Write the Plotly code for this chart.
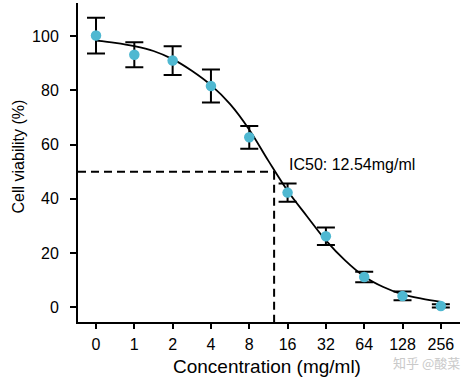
import math
import plotly.graph_objects as go

# ---- data ----
conc_labels = ["0", "1", "2", "4", "8", "16", "32", "64", "128", "256"]
viability = [100.2, 93.1, 91.0, 81.6, 62.7, 42.3, 26.2, 11.2, 4.2, 0.5]
viability_err = [6.6, 4.6, 5.3, 6.1, 4.2, 3.4, 3.2, 1.9, 1.6, 0.6]

# fitted curve (position on the category axis, % viability)
curve_pos = [0, 0.5, 1, 1.5, 2, 2.5, 3, 3.5, 4, 4.5, 5, 5.5, 6, 6.5, 7, 7.5, 8, 8.5, 9]
curve_val = [98.3, 97.5, 96.3, 94.5, 91.5, 87.2, 81.9, 74.9, 65.5, 54.0, 43.0,
             33.7, 24.7, 17.3, 11.4, 7.5, 4.8, 3.2, 2.0]

ic50 = 12.54          # mg/ml
ic50_level = 50       # %

x_range = [-0.47, 9.5]
y_range = [-5.4, 112.2]

# position of each category on the axis (0 first, then log2 steps)
xpos = list(range(len(conc_labels)))
ic50_pos = 1 + math.log2(ic50)

FONT = "Liberation Sans, Arial, Helvetica, sans-serif"
DOT = "#4FB8D1"

fig = go.Figure()

# dashed guide lines for IC50
fig.add_trace(go.Scatter(
    x=[x_range[0], ic50_pos], y=[ic50_level, ic50_level], mode="lines",
    line=dict(color="black", width=2, dash="8px,5px"), hoverinfo="skip",
    showlegend=False, cliponaxis=False))
fig.add_trace(go.Scatter(
    x=[ic50_pos, ic50_pos], y=[ic50_level, y_range[0]], mode="lines",
    line=dict(color="black", width=2, dash="8px,5px"), hoverinfo="skip",
    showlegend=False, cliponaxis=False))

# fitted curve
fig.add_trace(go.Scatter(
    x=curve_pos, y=curve_val, mode="lines",
    line=dict(color="black", width=1.8, shape="spline", smoothing=1),
    showlegend=False))

# data points with error bars
fig.add_trace(go.Scatter(
    x=xpos, y=viability, mode="markers",
    marker=dict(color=DOT, size=10.5),
    error_y=dict(type="data", array=viability_err, visible=True,
                 color="black", thickness=2, width=9),
    showlegend=False, cliponaxis=False))

fig.add_annotation(
    x=ic50_pos, y=52.5, xref="x", yref="y", xshift=13,
    text=f"IC50: {ic50}mg/ml", showarrow=False, xanchor="left", yanchor="middle",
    font=dict(family=FONT, size=16, color="black"))

# axis titles
fig.add_annotation(
    x=0.4935, y=-0.141, xref="paper", yref="paper",
    text="Concentration (mg/ml)", showarrow=False, xanchor="center", yanchor="middle",
    font=dict(family=FONT, size=19, color="black"))
fig.add_annotation(
    x=-0.157, y=0.519, xref="paper", yref="paper", textangle=-90,
    text="Cell viability (%)", showarrow=False, xanchor="center", yanchor="middle",
    font=dict(family=FONT, size=16, color="black"))

fig.add_annotation(
    x=1.005, y=-0.127, xref="paper", yref="paper",
    text="知乎 @酸菜", showarrow=False, xanchor="right", yanchor="middle",
    font=dict(family="Noto Sans CJK SC, sans-serif", size=13, color="#c9c9c9"))

fig.update_layout(
    width=474, height=380,
    margin=dict(l=78, r=14, t=3, b=58, autoexpand=False),
    paper_bgcolor="white", plot_bgcolor="white",
    font=dict(family=FONT, color="black"),
    xaxis=dict(
        range=x_range, tickmode="array", tickvals=xpos, ticktext=conc_labels,
        showline=True, linecolor="black", linewidth=2, mirror=False,
        ticks="outside", ticklen=5, tickwidth=2, tickcolor="black",
        showgrid=False, zeroline=False, ticklabelstandoff=2, automargin=False,
        tickfont=dict(family=FONT, size=16, color="black")),
    yaxis=dict(
        range=y_range, tickmode="array", tickvals=[0, 20, 40, 60, 80, 100],
        showline=True, linecolor="black", linewidth=2, automargin=False,
        ticks="outside", ticklen=6, tickwidth=2, tickcolor="black",
        showgrid=False, zeroline=False, ticklabelstandoff=8,
        tickfont=dict(family=FONT, size=16, color="black")),
)

fig.write_html("out.html", config={"displayModeBar": False},
               post_script="document.body.style.margin='0';document.body.style.padding='0';")
